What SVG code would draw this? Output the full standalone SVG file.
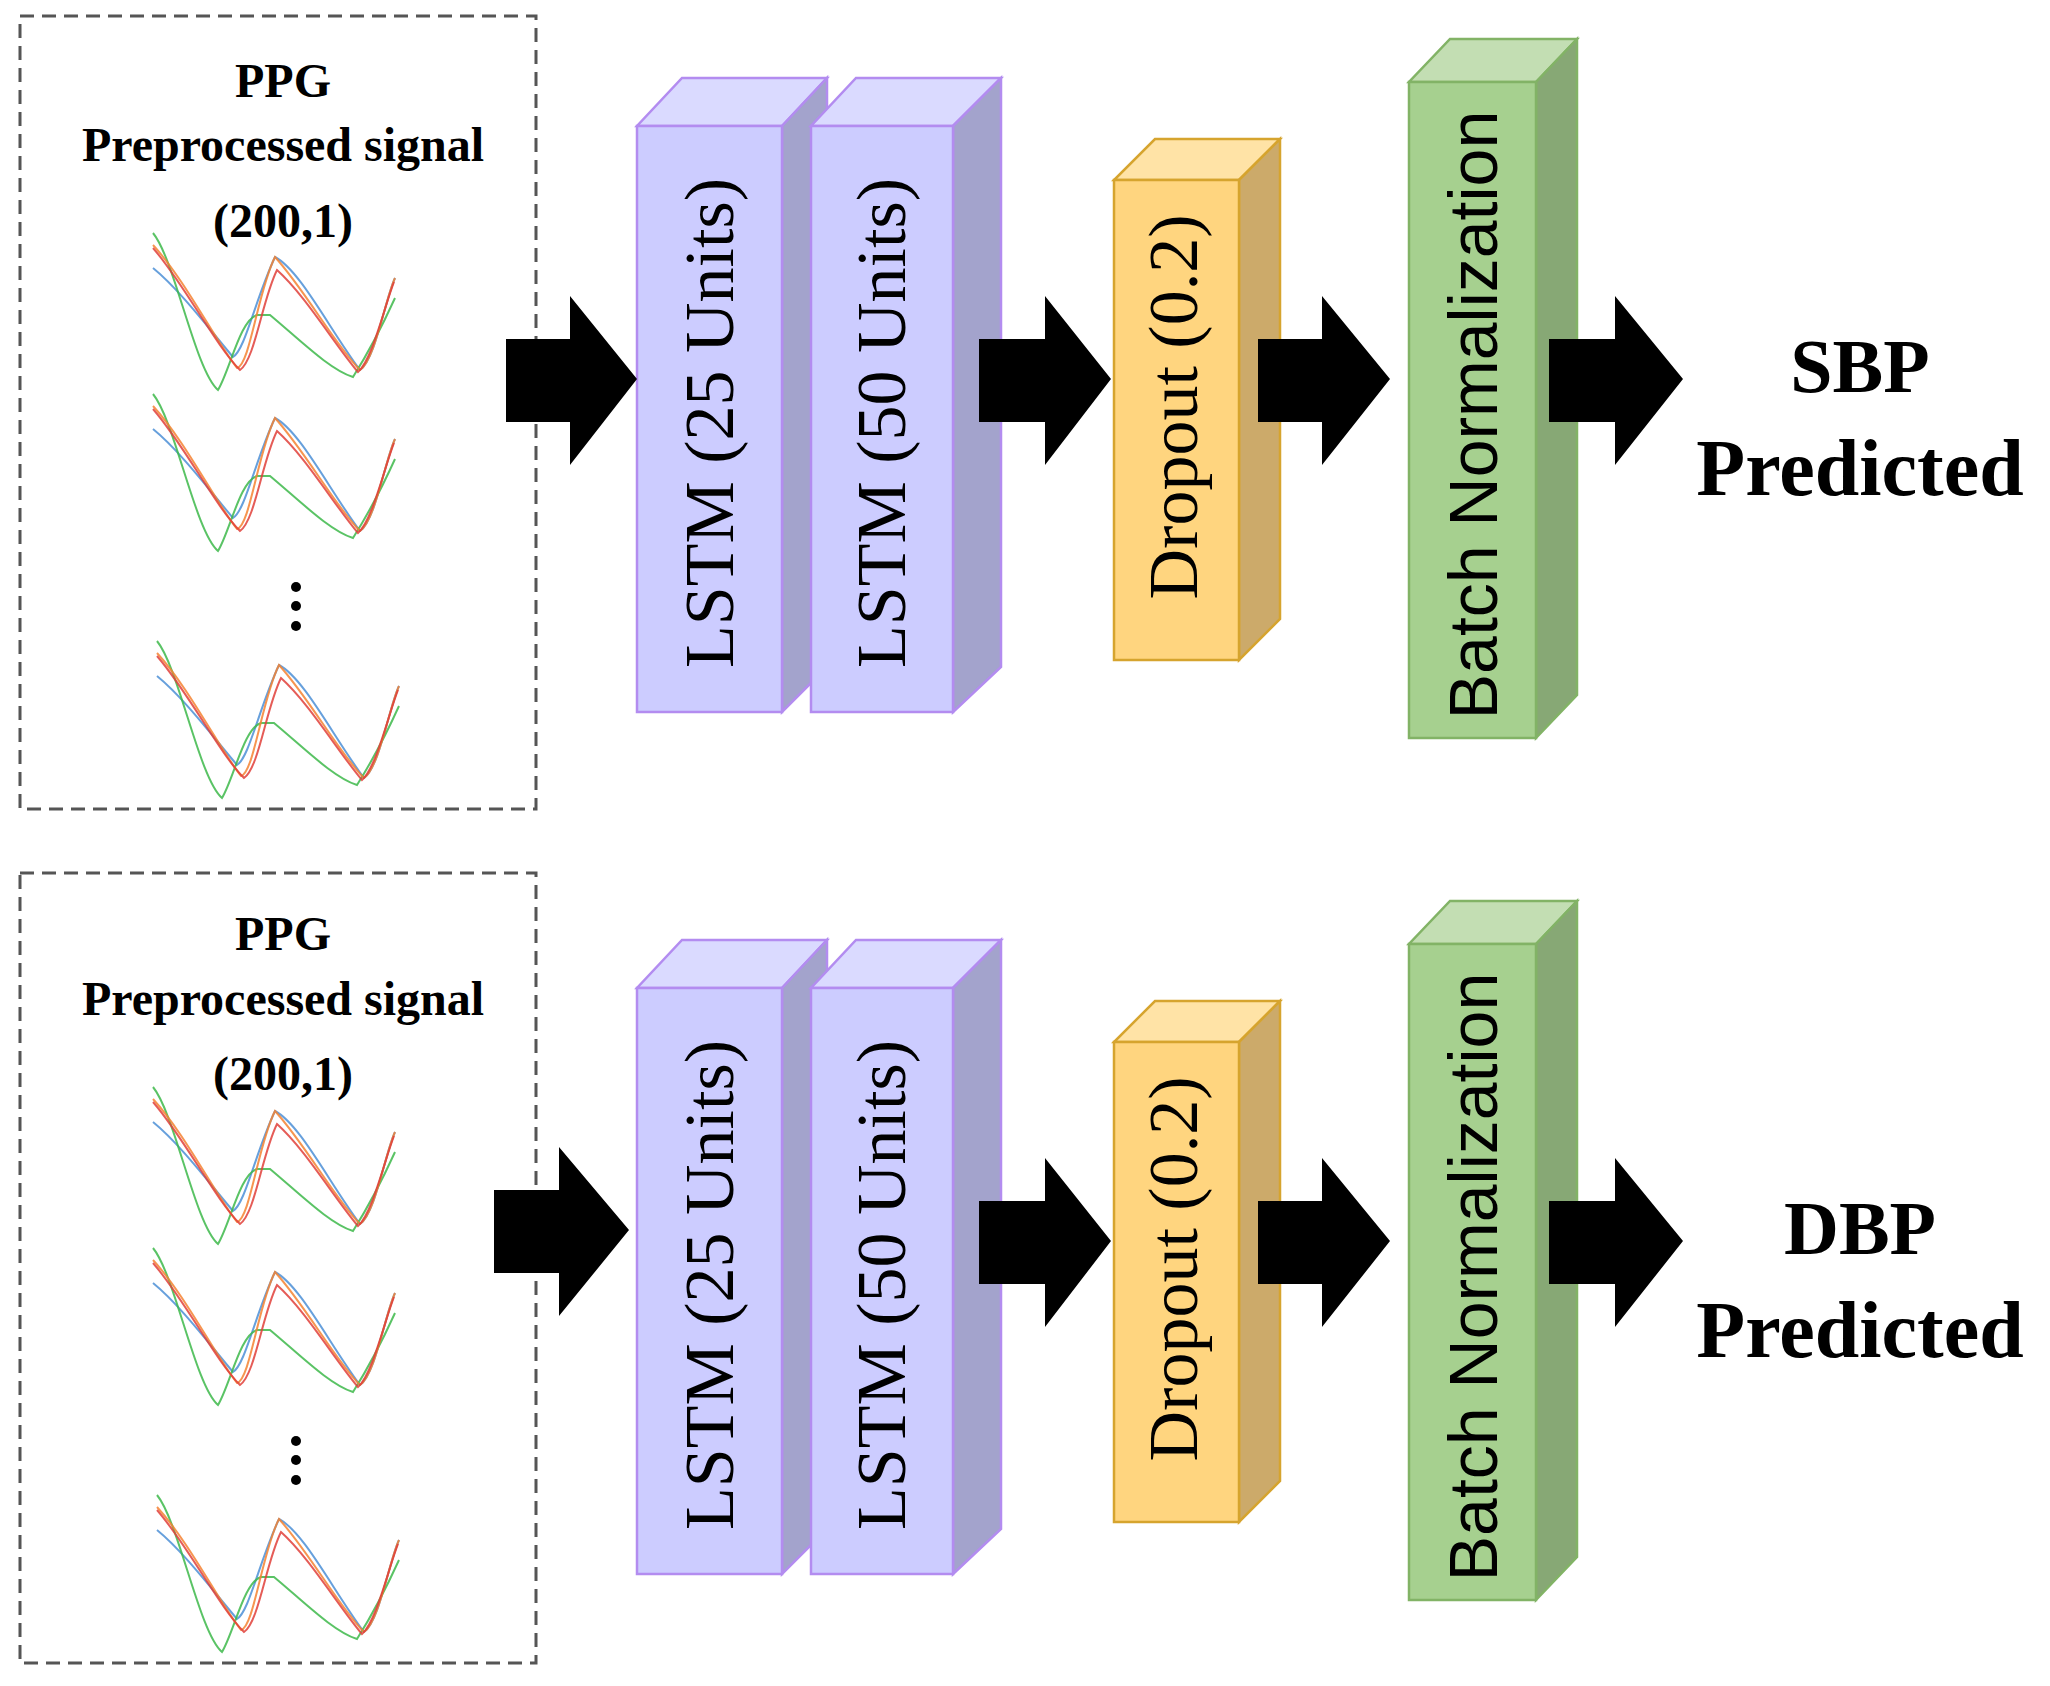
<svg xmlns="http://www.w3.org/2000/svg" width="2050" height="1686" viewBox="0 0 2050 1686">
<defs>
<style>
.box{fill:none;stroke:#555;stroke-width:3;stroke-dasharray:14 8}
.t{font-family:"Liberation Serif",serif;font-weight:bold;fill:#000;text-anchor:middle}
.lbl{font-family:"Liberation Serif",serif;font-size:70px;fill:#000;text-anchor:middle}
.bn{font-family:"Liberation Sans",sans-serif;font-size:68px;fill:#000;text-anchor:middle}
.lf{fill:#CCCCFF;stroke:#B38CF0;stroke-width:2.5}
.lt{fill:#DADAFF;stroke:#B38CF0;stroke-width:2.5}
.ls{fill:#A3A3CC;stroke:#B38CF0;stroke-width:2.5}
.df{fill:#FFD57F;stroke:#D6A42E;stroke-width:2.5}
.dt{fill:#FFE3A6;stroke:#D6A42E;stroke-width:2.5}
.ds{fill:#CCAA6A;stroke:#D6A42E;stroke-width:2.5}
.gf{fill:#A6D08F;stroke:#82B366;stroke-width:2.5}
.gt{fill:#C3DEB3;stroke:#82B366;stroke-width:2.5}
.gs{fill:#87A875;stroke:#82B366;stroke-width:2.5}
.w{fill:none;stroke-width:2;opacity:0.85}
.arr{fill:#000}
</style>
<g id="wave">
<path class="w" stroke="#4C8FD6" d="M153,268 C180,290 210,330 233,357 C245,350 255,300 275,257 C300,270 330,330 360,370 C375,360 385,300 395,278"/>
<path class="w" stroke="#3DB84A" d="M153,233 C175,260 195,370 218,390 C230,370 240,320 257,315 L270,315 C300,340 330,370 353,377 C370,350 385,320 395,298"/>
<path class="w" stroke="#F58231" d="M153,245 C185,280 215,340 237,368 C250,365 258,290 275,257 C305,290 335,345 360,370 C375,360 385,300 395,278"/>
<path class="w" stroke="#E0403A" d="M153,248 C185,285 215,345 240,370 C255,360 262,300 277,270 C305,295 335,345 358,372 C372,360 385,305 394,282"/>
</g>
</defs>

<g id="panel-sbp">
<g id="input1">
<rect class="box" x="20" y="16" width="516" height="793"/>
<text class="t" x="283" y="97" font-size="48">PPG</text>
<text class="t" x="283" y="161" font-size="48">Preprocessed signal</text>
<text class="t" x="283" y="237" font-size="48">(200,1)</text>
<use href="#wave"/>
<use href="#wave" transform="translate(0,161)"/>
<use href="#wave" transform="translate(4,408)"/>
<circle cx="296" cy="587" r="5"/><circle cx="296" cy="606" r="5"/><circle cx="296" cy="626" r="5"/>
</g>
<g id="lstm25a">
<polygon class="lt" points="637,126 782,126 827,78 682,78"/>
<polygon class="ls" points="782,126 827,78 827,667 782,712"/>
<rect class="lf" x="637" y="126" width="145" height="586"/>
<text class="lbl" transform="translate(733,423) rotate(-90)">LSTM (25 Units)</text>
</g>
<g id="lstm50a">
<polygon class="lt" points="811,126 953,126 1001,78 856,78"/>
<polygon class="ls" points="953,126 1001,78 1001,667 953,712"/>
<rect class="lf" x="811" y="126" width="142" height="586"/>
<text class="lbl" transform="translate(905,423) rotate(-90)">LSTM (50 Units)</text>
</g>
<g id="dropa">
<polygon class="dt" points="1114,180 1239,180 1280,139 1155,139"/>
<polygon class="ds" points="1239,180 1280,139 1280,619 1239,660"/>
<rect class="df" x="1114" y="180" width="125" height="480"/>
<text class="lbl" transform="translate(1197,407) rotate(-90)">Dropout (0.2)</text>
</g>
<g id="bna">
<polygon class="gt" points="1409,82 1536,82 1577,39 1450,39"/>
<polygon class="gs" points="1536,82 1577,39 1577,695 1536,738"/>
<rect class="gf" x="1409" y="82" width="127" height="656"/>
<text class="bn" transform="translate(1497,415) rotate(-90)">Batch Normalization</text>
</g>
<g id="outa">
<text class="t" x="1860" y="392" font-size="76">SBP</text>
<text class="t" x="1860" y="495" font-size="80">Predicted</text>
</g>
</g>

<g id="panel-dbp">
<g id="input2">
<rect class="box" x="20" y="873" width="516" height="790"/>
<text class="t" x="283" y="950" font-size="48">PPG</text>
<text class="t" x="283" y="1015" font-size="48">Preprocessed signal</text>
<text class="t" x="283" y="1090" font-size="48">(200,1)</text>
<use href="#wave" transform="translate(0,854)"/>
<use href="#wave" transform="translate(0,1015)"/>
<use href="#wave" transform="translate(4,1262)"/>
<circle cx="296" cy="1441" r="5"/><circle cx="296" cy="1460" r="5"/><circle cx="296" cy="1480" r="5"/>
</g>
<g id="lstm25b">
<polygon class="lt" points="637,988 782,988 827,940 682,940"/>
<polygon class="ls" points="782,988 827,940 827,1529 782,1574"/>
<rect class="lf" x="637" y="988" width="145" height="586"/>
<text class="lbl" transform="translate(733,1285) rotate(-90)">LSTM (25 Units)</text>
</g>
<g id="lstm50b">
<polygon class="lt" points="811,988 953,988 1001,940 856,940"/>
<polygon class="ls" points="953,988 1001,940 1001,1529 953,1574"/>
<rect class="lf" x="811" y="988" width="142" height="586"/>
<text class="lbl" transform="translate(905,1285) rotate(-90)">LSTM (50 Units)</text>
</g>
<g id="dropb">
<polygon class="dt" points="1114,1042 1239,1042 1280,1001 1155,1001"/>
<polygon class="ds" points="1239,1042 1280,1001 1280,1481 1239,1522"/>
<rect class="df" x="1114" y="1042" width="125" height="480"/>
<text class="lbl" transform="translate(1197,1269) rotate(-90)">Dropout (0.2)</text>
</g>
<g id="bnb">
<polygon class="gt" points="1409,944 1536,944 1577,901 1450,901"/>
<polygon class="gs" points="1536,944 1577,901 1577,1557 1536,1600"/>
<rect class="gf" x="1409" y="944" width="127" height="656"/>
<text class="bn" transform="translate(1497,1277) rotate(-90)">Batch Normalization</text>
</g>
<g id="outb">
<text class="t" x="1860" y="1254" font-size="76">DBP</text>
<text class="t" x="1860" y="1357" font-size="80">Predicted</text>
</g>
</g>

<g id="connectors">
<polygon class="arr" points="506,339 570,339 570,296 637,379 570,465 570,422 506,422"/>
<polygon class="arr" points="979,339 1045,339 1045,296 1111,379 1045,465 1045,422 979,422"/>
<polygon class="arr" points="1258,339 1322,339 1322,296 1390,379 1322,465 1322,422 1258,422"/>
<polygon class="arr" points="1549,339 1615,339 1615,296 1683,379 1615,465 1615,422 1549,422"/>
<polygon class="arr" points="494,1190 559,1190 559,1147 629,1230 559,1316 559,1273 494,1273"/>
<polygon class="arr" points="979,1201 1045,1201 1045,1158 1111,1241 1045,1327 1045,1284 979,1284"/>
<polygon class="arr" points="1258,1201 1322,1201 1322,1158 1390,1241 1322,1327 1322,1284 1258,1284"/>
<polygon class="arr" points="1549,1201 1615,1201 1615,1158 1683,1241 1615,1327 1615,1284 1549,1284"/>
</g>
</svg>
